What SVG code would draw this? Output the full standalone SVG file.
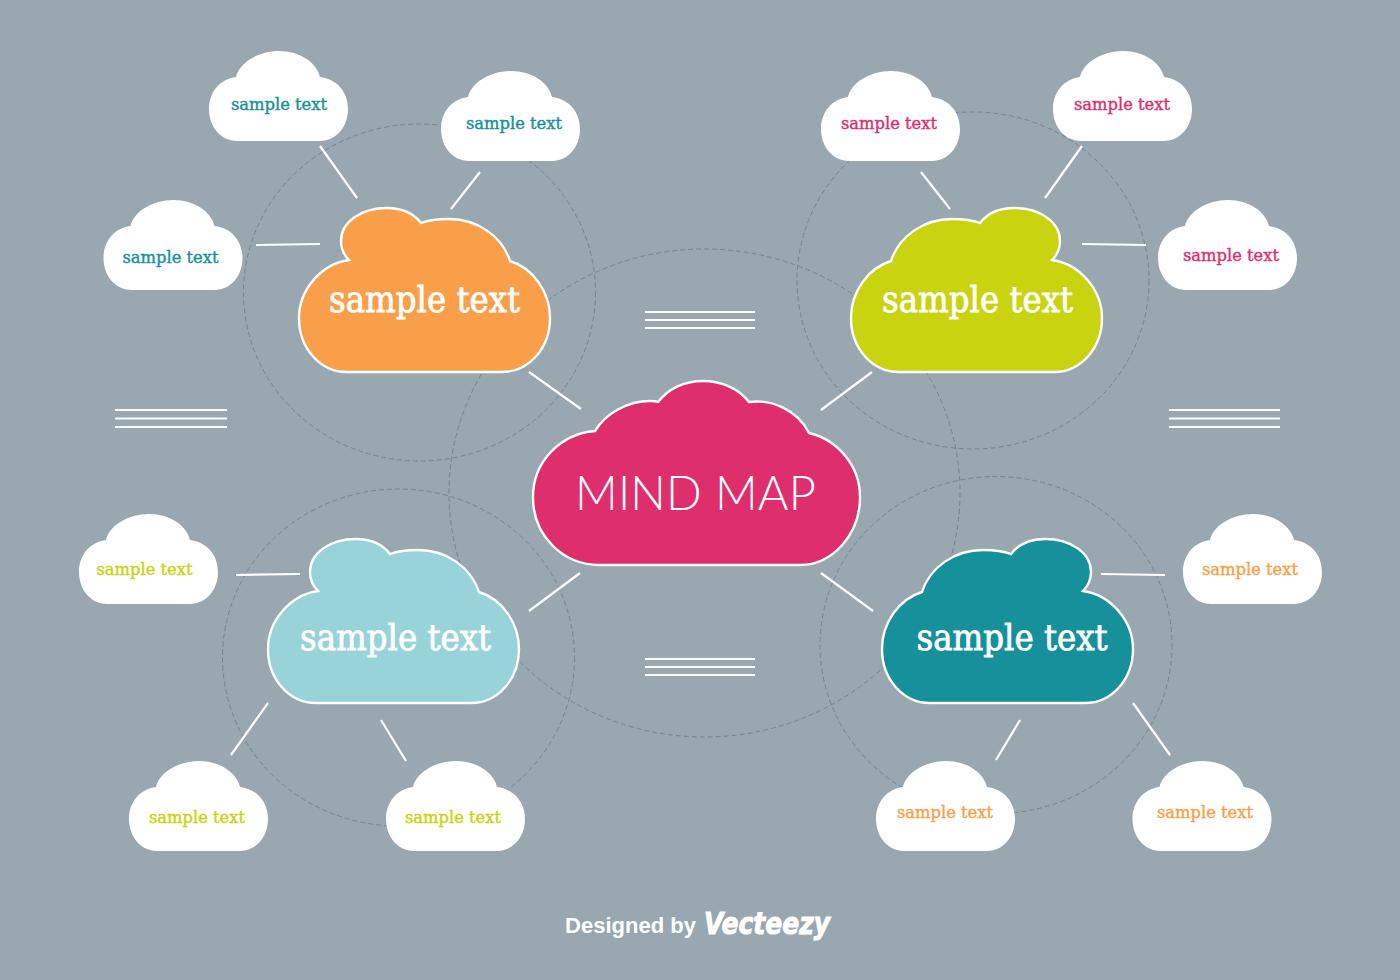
<svg xmlns="http://www.w3.org/2000/svg" width="1400" height="980" viewBox="0 0 1400 980">
<style>
.ring{fill:none;stroke:#75838c;stroke-width:1;stroke-dasharray:5 3}
.conn line{stroke:#fff;stroke-width:2.2}
.rule line{stroke:#fff;stroke-width:2}
.small{fill:#fff}
.big{stroke:#fff;stroke-width:2.4}
.st{font-family:"DejaVu Serif","Liberation Serif",serif;font-size:16.5px;text-anchor:middle;stroke-width:.4}
.bt{font-family:"DejaVu Serif","Liberation Serif",serif;font-size:35px;fill:#fff;stroke:#fff;stroke-width:.8;text-anchor:middle}
.teal{fill:#16909a;stroke:#16909a}.pink{fill:#de2e6b;stroke:#de2e6b}.lime{fill:#c9d30f;stroke:#c9d30f}.orange{fill:#f99f49;stroke:#f99f49}
.big.teal,.big.pink,.big.lime,.big.orange,.big.ice{stroke:#fff}
.ice{fill:#97d3d8}
</style>
<defs>
<path id="s" d="M28 90C12 90 0 76 0 58C0 41 11 28 27 26C30 12 49 0 70 0C91 0 108 12 111 26C128 28 139 41 139 58C139 76 127 90 111 90Z"/>
<path id="b" d="M48 164C21 164 0 140 0 110C0 82 22 56 50 52C44 46 42 38 42 33C42 14 62 0 88 0C103 0 115 6 122 15C130 12 140 11 150 11C178 11 203 28 211 53C234 60 251 84 251 110C251 140 230 164 203 164Z"/>
</defs>
<rect width="1400" height="980" fill="#98a7b0"/>
<g id="rings">
<ellipse class="ring" cx="419.500" cy="292.500" rx="176" ry="168.500"/>
<ellipse class="ring" cx="973" cy="280.500" rx="176" ry="168.500"/>
<ellipse class="ring" cx="398.500" cy="657.500" rx="176" ry="168.500"/>
<ellipse class="ring" cx="996" cy="645" rx="176" ry="168.500"/>
<ellipse class="ring" cx="704.500" cy="493" rx="255.500" ry="244"/>
</g>
<g id="connectors" class="conn">
<line x1="320" y1="146" x2="357" y2="198"/>
<line x1="480" y1="172" x2="451" y2="209"/>
<line x1="256" y1="245" x2="320" y2="244"/>
<line x1="529" y1="372" x2="581" y2="409"/>
<line x1="872" y1="372" x2="821" y2="410"/>
<line x1="921" y1="172" x2="950" y2="209"/>
<line x1="1082" y1="146" x2="1045" y2="198"/>
<line x1="1082" y1="244" x2="1146" y2="245"/>
<line x1="236" y1="575" x2="300" y2="574"/>
<line x1="580" y1="573" x2="529" y2="611"/>
<line x1="821" y1="573" x2="873" y2="611"/>
<line x1="1101" y1="574" x2="1165" y2="575"/>
<line x1="268" y1="703" x2="231" y2="755"/>
<line x1="381" y1="720" x2="406" y2="761"/>
<line x1="1020" y1="720" x2="996" y2="760"/>
<line x1="1133" y1="703" x2="1170" y2="755"/>
</g>
<g id="rule-top" class="rule"><line x1="645" y1="312" x2="755" y2="312"/><line x1="645" y1="320" x2="755" y2="320"/><line x1="645" y1="328" x2="755" y2="328"/></g>
<g id="rule-left" class="rule"><line x1="115" y1="410" x2="227" y2="410"/><line x1="115" y1="418.500" x2="227" y2="418.500"/><line x1="115" y1="427" x2="227" y2="427"/></g>
<g id="rule-right" class="rule"><line x1="1169" y1="410" x2="1280" y2="410"/><line x1="1169" y1="418.500" x2="1280" y2="418.500"/><line x1="1169" y1="427" x2="1280" y2="427"/></g>
<g id="rule-bottom" class="rule"><line x1="645" y1="659" x2="755" y2="659"/><line x1="645" y1="667" x2="755" y2="667"/><line x1="645" y1="675" x2="755" y2="675"/></g>

<g id="center"><path class="big pink" d="M600 565C562 565 533 535 533 497C533 462 560 434 595 431C606 413 628 401 650 401C653 401 656 401 658 402C668 389 684 381 703 381C722 381 739 389 749 402C770 399 797 409 809 433C838 440 860 466 860 497C860 535 832 565 800 565Z"/>
<text x="695.500" y="510" font-family="Lato,Inter,sans-serif" font-weight="300" font-size="47" fill="#fff" text-anchor="middle" textLength="241" lengthAdjust="spacing">MIND MAP</text></g>

<g id="main-orange"><use href="#b" class="big orange" x="299" y="208"/><text class="bt" x="424.500" y="312" textLength="191" lengthAdjust="spacingAndGlyphs">sample text</text></g>
<g id="main-lime"><use href="#b" class="big lime" transform="translate(1102 208) scale(-1 1)"/><text class="bt" x="977.500" y="312" textLength="191" lengthAdjust="spacingAndGlyphs">sample text</text></g>
<g id="main-ice"><use href="#b" class="big ice" x="268" y="539"/><text class="bt" x="395.500" y="650" textLength="191" lengthAdjust="spacingAndGlyphs">sample text</text></g>
<g id="main-teal"><use href="#b" class="big teal" transform="translate(1133 539) scale(-1 1)"/><text class="bt" x="1012" y="650" textLength="191" lengthAdjust="spacingAndGlyphs">sample text</text></g>

<g id="t1"><use href="#s" class="small" x="209" y="51"/><text class="st teal" x="279" y="110" textLength="96" lengthAdjust="spacingAndGlyphs">sample text</text></g>
<g id="t2"><use href="#s" class="small" x="441" y="71"/><text class="st teal" x="514" y="129" textLength="96" lengthAdjust="spacingAndGlyphs">sample text</text></g>
<g id="t3"><use href="#s" class="small" x="103.500" y="200"/><text class="st teal" x="170.500" y="263" textLength="96" lengthAdjust="spacingAndGlyphs">sample text</text></g>
<g id="p1"><use href="#s" class="small" x="821" y="71"/><text class="st pink" x="889" y="129" textLength="96" lengthAdjust="spacingAndGlyphs">sample text</text></g>
<g id="p2"><use href="#s" class="small" x="1053" y="51"/><text class="st pink" x="1122" y="110" textLength="96" lengthAdjust="spacingAndGlyphs">sample text</text></g>
<g id="p3"><use href="#s" class="small" x="1158" y="200"/><text class="st pink" x="1231" y="261" textLength="96" lengthAdjust="spacingAndGlyphs">sample text</text></g>
<g id="l1"><use href="#s" class="small" x="79" y="514"/><text class="st lime" x="144.500" y="575" textLength="96" lengthAdjust="spacingAndGlyphs">sample text</text></g>
<g id="l2"><use href="#s" class="small" x="129" y="761"/><text class="st lime" x="197" y="823" textLength="96" lengthAdjust="spacingAndGlyphs">sample text</text></g>
<g id="l3"><use href="#s" class="small" x="386" y="761"/><text class="st lime" x="453" y="823" textLength="96" lengthAdjust="spacingAndGlyphs">sample text</text></g>
<g id="o1"><use href="#s" class="small" x="1183" y="514"/><text class="st orange" x="1250" y="575" textLength="96" lengthAdjust="spacingAndGlyphs">sample text</text></g>
<g id="o2"><use href="#s" class="small" x="876" y="761"/><text class="st orange" x="945" y="818" textLength="96" lengthAdjust="spacingAndGlyphs">sample text</text></g>
<g id="o3"><use href="#s" class="small" x="1132.500" y="761"/><text class="st orange" x="1205" y="818" textLength="96" lengthAdjust="spacingAndGlyphs">sample text</text></g>

<g id="credit" fill="#fff">
<text x="565" y="933" font-family="'Liberation Sans',Arial,sans-serif" font-weight="700" font-size="21.500" textLength="131" lengthAdjust="spacingAndGlyphs">Designed by</text>
<text x="704" y="934" font-family="'DejaVu Sans',sans-serif" font-weight="700" font-style="italic" font-size="30" stroke="#fff" stroke-width="1" textLength="126" lengthAdjust="spacingAndGlyphs">Vecteezy</text>
</g>
</svg>
